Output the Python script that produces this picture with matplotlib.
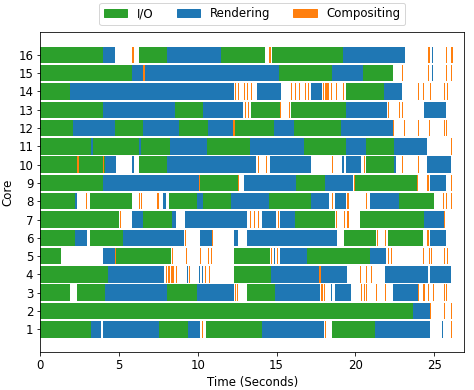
import matplotlib
matplotlib.use("Agg")
import matplotlib.pyplot as plt
from matplotlib.patches import Patch

# per-core activity, (start, end) in seconds
io_segments = {
    16: [(0, 4.0), (6.27, 8.03), (11.46, 14.27), (14.7, 19.19)],
    15: [(0, 1.9), (1.9, 5.81), (15.16, 18.49), (20.5, 22.42)],
    14: [(0, 1.9), (19.4, 21.83)],
    13: [(0, 4.01), (8.54, 10.34), (13.37, 15.21), (15.9, 19.4)],
    12: [(0, 2.08), (4.73, 6.55), (8.81, 10.66), (12.3, 14.85), (16.11, 19.12)],
    11: [(0, 3.2), (3.33, 6.27), (6.37, 8.24), (10.57, 13.32), (16.75, 19.4), (20.67, 22.46)],
    10: [(0, 4.1), (6.27, 8.03), (20.67, 22.46)],
    9: [(0, 3.95), (10.13, 12.52), (16.22, 18.08), (19.93, 23.9)],
    8: [(0, 2.21), (3.16, 5.85), (8.14, 9.94), (10.36, 12.1), (14.53, 17.17), (22.74, 24.97)],
    7: [(0, 5.0), (6.55, 8.33), (16.16, 18.7), (20.3, 24.33)],
    6: [(0, 2.19), (3.16, 5.22), (19.25, 21.3), (22.08, 24.3)],
    5: [(0, 1.3), (4.76, 8.29), (12.27, 14.6), (16.92, 20.94)],
    4: [(0, 4.27), (12.27, 14.63)],
    3: [(0, 1.9), (2.32, 4.1), (8.07, 9.94), (13.15, 14.89)],
    2: [(0, 23.63)],
    1: [(0, 3.2), (7.54, 9.35), (10.55, 14.1), (18.49, 21.24)],
}

render_segments = {
    16: [(4.0, 4.77), (8.03, 11.46), (19.19, 23.13), (24.88, 24.93)],
    15: [(5.81, 6.55), (6.6, 10.66), (10.66, 12.45), (12.45, 15.16), (18.49, 20.5), (24.88, 24.92)],
    14: [(1.9, 4.16), (4.16, 8.54), (8.54, 12.3), (13.75, 15.27), (17.17, 17.5),
         (17.5, 17.9), (21.83, 22.95)],
    13: [(4.01, 8.54), (10.34, 12.88), (19.4, 22.0), (24.37, 25.75)],
    12: [(2.08, 4.73), (6.55, 8.81), (10.66, 12.24), (14.85, 16.11), (19.12, 21.03), (21.03, 22.36)],
    11: [(3.2, 3.33), (6.27, 6.37), (8.24, 10.57), (13.32, 16.75), (19.4, 20.67), (22.46, 24.58)],
    10: [(4.1, 4.79), (5.81, 5.96), (8.03, 9.94), (9.94, 13.68), (14.57, 16.86), (16.86, 17.17),
         (19.14, 19.29), (19.4, 20.35), (22.46, 22.6), (24.58, 26.06)],
    9: [(3.95, 10.08), (12.9, 16.22), (18.08, 19.88), (24.73, 25.75)],
    8: [(2.21, 2.32), (7.82, 7.97), (9.94, 10.3), (12.1, 14.53), (17.17, 18.34), (18.7, 19.4),
        (20.94, 22.74)],
    7: [(5.81, 6.55), (8.33, 8.6), (9.2, 13.1), (14.1, 14.95), (15.2, 16.16), (24.33, 25.6)],
    6: [(2.19, 2.95), (5.22, 9.13), (10.15, 10.87), (12.27, 12.52), (13.15, 18.83), (24.75, 25.75)],
    5: [(4.01, 4.75), (14.85, 14.9), (15.2, 16.92), (20.94, 21.94)],
    4: [(4.27, 7.86), (9.3, 9.35), (10.1, 10.15), (10.28, 10.32), (14.63, 17.7), (17.81, 19.5),
        (21.87, 24.62), (24.73, 26.06)],
    3: [(4.1, 8.07), (9.94, 12.27), (14.89, 17.77), (18.47, 18.52), (18.7, 19.7), (22.4, 23.95)],
    2: [(23.63, 24.73)],
    1: [(3.2, 3.88), (3.95, 7.54), (9.35, 10.15), (14.1, 18.02), (21.24, 24.75), (25.52, 25.56)],
}

# compositing events: start times (each lasts comp_duration)
comp_times = {
    16: [5.85, 14.55, 24.6, 24.7, 25.75, 26.06, 26.15],
    15: [6.55, 22.93, 24.62, 25.75, 26.06],
    14: [12.35, 12.52, 12.9, 13.1, 13.37, 15.9, 16.16, 16.43, 16.81, 16.97, 17.95, 18.1,
         18.23, 18.44, 18.76, 19.19, 23.95, 24.3, 24.73, 25.64, 25.79],
    13: [12.98, 13.19, 15.21, 15.8, 22.05, 22.78, 22.93],
    12: [12.26, 22.4, 23.1, 23.95, 24.69, 25.64, 25.75],
    11: [26.06],
    10: [2.36, 4.0, 13.83, 14.32, 18.49, 20.52, 22.93, 23.95],
    9: [10.1, 12.56, 19.9, 23.9, 24.58, 26.06],
    8: [2.89, 6.27, 6.38, 7.44, 18.49, 19.5, 20.67, 25.54, 25.75, 26.06],
    7: [5.05, 13.32, 13.57, 13.79, 15.06, 18.76, 19.29, 19.5, 25.64],
    6: [9.2, 10.9, 21.35, 21.9, 24.58],
    5: [4.76, 8.35, 9.24, 10.15, 10.62, 10.83, 14.63, 15.05, 22.08, 22.25, 24.27, 24.69,
        24.8, 25.64, 25.81],
    4: [7.97, 8.08, 8.18, 8.29, 8.39, 8.6, 9.45, 10.46, 10.72, 17.72, 20.3, 20.67, 20.98],
    3: [12.35, 12.46, 17.81, 17.9, 17.98, 20.35, 20.52, 20.67, 21.3, 21.87, 23.99, 24.27,
        24.37, 24.62, 24.9, 25.64, 25.75],
    2: [24.76, 25.64, 26.06],
    1: [10.25, 18.06, 26.06],
}
comp_duration = 0.07

cores = list(range(1, 17))
c_io = '#2ca02c'
c_render = '#1f77b4'
c_comp = '#ff7f0e'

# reference looks like a 72 dpi render with ~11.7pt text
plt.rcParams['font.size'] = 11.7
fig = plt.figure(figsize=(474 / 72, 390 / 72), dpi=72)
ax = fig.add_axes([0.085, 0.097, 0.894, 0.821])

h = 0.9
for core in cores:
    y0 = core - h / 2
    ax.broken_barh([(s, e - s) for s, e in io_segments[core]], (y0, h),
                   facecolor=c_io, linewidth=0)
    ax.broken_barh([(s, e - s) for s, e in render_segments[core]], (y0, h),
                   facecolor=c_render, linewidth=0)
    ax.broken_barh([(s, comp_duration) for s in comp_times[core]], (y0, h),
                   facecolor=c_comp, linewidth=0)

ax.set_xlim(0, 26.9)
ax.set_ylim(-0.25, 17.25)
ax.set_yticks(cores)
ax.set_xticks([0, 5, 10, 15, 20, 25])
ax.set_xlabel('Time (Seconds)')
ax.set_ylabel('Core')

handles = [Patch(color=c_io, label='I/O'),
           Patch(color=c_render, label='Rendering'),
           Patch(color=c_comp, label='Compositing')]
ax.legend(handles=handles, loc='lower center', bbox_to_anchor=(0.5, 1.0),
          ncol=3, borderaxespad=0.6, columnspacing=2.0)

fig.savefig('out.png', dpi=72)
